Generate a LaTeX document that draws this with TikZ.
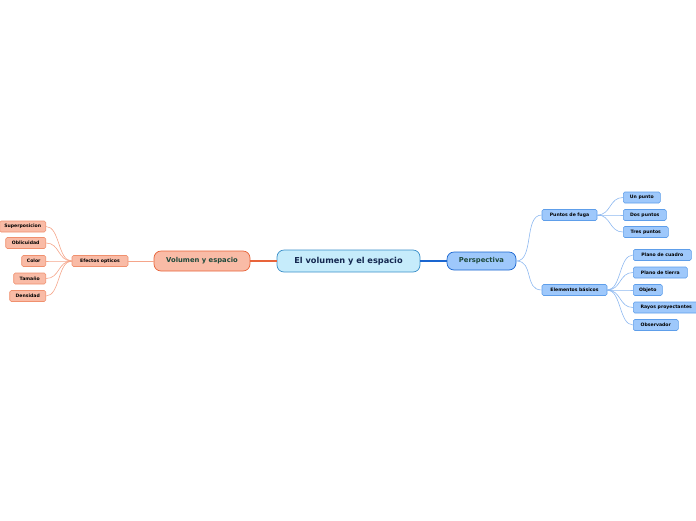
\documentclass[tikz,border=0pt]{standalone}
\usepackage{fontspec}
\setmainfont{DejaVu Sans}
\begin{document}
\begin{tikzpicture}[x=1pt,y=-1pt,
 leafO/.style={draw=salmonB,fill=salmonF,rounded corners=1.5pt,font=\fontsize{4.6}{5}\selectfont\bfseries,inner sep=0pt,minimum height=11pt,line width=0.6pt},
 leafB/.style={draw=blueB,fill=blueF,rounded corners=1.5pt,font=\fontsize{4.6}{5}\selectfont\bfseries,inner sep=0pt,minimum height=11pt,line width=0.6pt},
 conO/.style={draw=salmonL,line width=0.6pt},
 conB/.style={draw=blueL,line width=0.6pt}]
\definecolor{salmonF}{HTML}{F9BBA6}\definecolor{salmonB}{HTML}{F0906E}\definecolor{salmonL}{HTML}{F5A58A}
\definecolor{blueF}{HTML}{9EC8FB}\definecolor{blueB}{HTML}{5E9EEA}\definecolor{blueL}{HTML}{8DB8F0}
\definecolor{txtG}{HTML}{1E4A3C}
\useasboundingbox (0,0) rectangle (696,520);
\node[draw={rgb,255:red,58;green,143;blue,201},fill={rgb,255:red,198;green,236;blue,251},rounded corners=7pt,minimum width=143pt,minimum height=22pt,inner sep=0pt,line width=0.7pt,font=\fontsize{8.2}{9}\selectfont\bfseries,text={rgb,255:red,20;green,40;blue,80}] (c) at (348.5,261) {El volumen y el espacio};
\node[draw={rgb,255:red,232;green,100;blue,58},fill=salmonF,rounded corners=7pt,minimum width=96pt,minimum height=20pt,inner sep=0pt,line width=0.7pt,font=\fontsize{6.8}{8}\selectfont\bfseries,text=txtG] (v) at (202,261) {Volumen y espacio};
\node[draw={rgb,255:red,26;green,102;blue,208},fill=blueF,rounded corners=7pt,minimum width=69pt,minimum height=18pt,inner sep=0pt,line width=0.7pt,font=\fontsize{6.8}{8}\selectfont\bfseries,text=txtG] (p) at (481.5,261) {Perspectiva};
\draw[draw={rgb,255:red,232;green,100;blue,58},line width=1.2pt] (c.west) -- (v.east);
\draw[draw={rgb,255:red,26;green,102;blue,208},line width=1.2pt] (c.east) -- (p.west);
\node[leafO,minimum width=56pt] (e) at (100,261) {Efectos opticos};
\draw[conO] (v.west) -- (e.east);
\foreach \n/\t/\w/\y in {s/Superposicion/46/226.5,o/Oblicuidad/40/243,co/Color/24/261,t/Tamaño/32/278.5,d/Densidad/36/296}{
 \node[leafO,minimum width=\w pt,anchor=east] (\n) at (46,\y) {\t};
 \draw[conO] (e.west) .. controls +(-14,0) and +(14,0) .. (\n.east);}
\node[leafB,minimum width=55pt] (pf) at (569.5,215) {Puntos de fuga};
\node[leafB,minimum width=65pt] (eb) at (574.5,290) {Elementos básicos};
\draw[conB] (p.east) .. controls +(18,0) and +(-18,0) .. (pf.west);
\draw[conB] (p.east) .. controls +(18,0) and +(-18,0) .. (eb.west);
\foreach \n/\t/\w/\y in {u/Un punto/37/197.5,dp/Dos puntos/43/215,tp/Tres puntos/45/232}{
 \node[leafB,minimum width=\w pt,anchor=west] (\n) at (623,\y) {\t};
 \draw[conB] (pf.east) .. controls +(14,0) and +(-14,0) .. (\n.west);}
\foreach \n/\t/\w/\y in {pc/Plano de cuadro/58/255,pt/Plano de tierra/54/272.5,ob/Objeto/29/290,rp/Rayos proyectantes/66/307.5,obs/Observador/45/325}{
 \node[leafB,minimum width=\w pt,anchor=west] (\n) at (633,\y) {\t};
 \draw[conB] (eb.east) .. controls +(14,0) and +(-14,0) .. (\n.west);}
\end{tikzpicture}
\end{document}
